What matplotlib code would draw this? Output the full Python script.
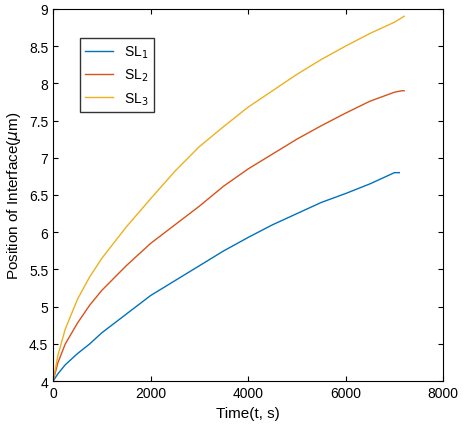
import matplotlib
matplotlib.use("Agg")
import matplotlib.pyplot as plt

plt.rcParams["font.family"] = ["Liberation Sans", "DejaVu Sans"]

t1 = [0, 100, 250, 500, 750, 1000, 1500, 2000, 2500, 3000, 3500, 4000, 4500, 5000, 5500, 6000, 6500, 7000, 7100]
sl1 = [4.0, 4.1, 4.22, 4.37, 4.5, 4.65, 4.9, 5.15, 5.35, 5.55, 5.75, 5.93, 6.1, 6.25, 6.4, 6.52, 6.65, 6.8, 6.8]
t2 = [0, 100, 250, 500, 750, 1000, 1500, 2000, 2500, 3000, 3500, 4000, 4500, 5000, 5500, 6000, 6500, 7000, 7150, 7200]
sl2 = [4.0, 4.25, 4.5, 4.78, 5.02, 5.22, 5.55, 5.85, 6.1, 6.35, 6.62, 6.85, 7.05, 7.25, 7.43, 7.6, 7.76, 7.88, 7.9, 7.9]
t3 = [0, 100, 250, 500, 750, 1000, 1500, 2000, 2500, 3000, 3500, 4000, 4500, 5000, 5500, 6000, 6500, 7000, 7200]
sl3 = [4.0, 4.35, 4.7, 5.1, 5.4, 5.65, 6.07, 6.45, 6.82, 7.15, 7.42, 7.68, 7.9, 8.12, 8.32, 8.5, 8.67, 8.82, 8.9]

fig, ax = plt.subplots(figsize=(4.74, 4.27), dpi=100)
fig.subplots_adjust(left=0.112, right=0.935, top=0.977, bottom=0.105)

ax.plot(t1, sl1, color="#0072BD", lw=1.0, label="SL$_1$")
ax.plot(t2, sl2, color="#D95319", lw=1.0, label="SL$_2$")
ax.plot(t3, sl3, color="#EDB120", lw=1.0, label="SL$_3$")

ax.set_xlim(0, 8000)
ax.set_ylim(4, 9)
ax.set_xticks(range(0, 8001, 2000))
ax.set_yticks([4, 4.5, 5, 5.5, 6, 6.5, 7, 7.5, 8, 8.5, 9])
ax.set_yticklabels(["4", "4.5", "5", "5.5", "6", "6.5", "7", "7.5", "8", "8.5", "9"])
ax.tick_params(direction="in", labelsize=10, top=True, right=True)
ax.set_xlabel("Time(t, s)", fontsize=11)
ax.set_ylabel("Position of Interface($\\mu$m)", fontsize=11)
ax.legend(loc="upper left", bbox_to_anchor=(0.05, 0.94), fontsize=10,
          fancybox=False, edgecolor="black", handlelength=2.0)

fig.savefig("out.png")
